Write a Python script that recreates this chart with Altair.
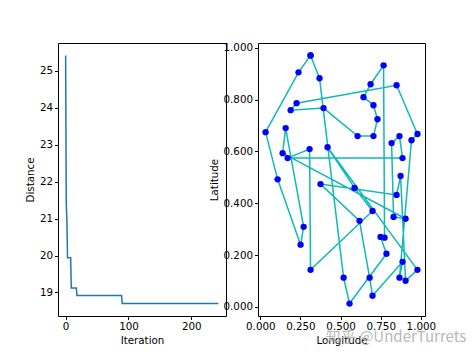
import altair as alt
import pandas as pd

# ---- Left panel: convergence curve ----
iterations = [0, 1, 2, 3, 8, 9, 17, 18, 89, 90, 243]
distances = [25.41, 21.40, 20.95, 19.94, 19.94, 19.12, 19.12, 18.92, 18.92, 18.70, 18.70]

# ---- Right panel: tour (visiting order, closed) ----
longitude = [0.313, 0.238, 0.033, 0.108, 0.251, 0.270, 0.158, 0.139, 0.905, 0.830,
             0.818, 0.867, 0.886, 0.170, 0.307, 0.313, 0.699, 0.587, 0.419, 0.979,
             0.905, 0.874, 0.849, 0.375, 0.618, 0.681, 0.699, 0.886, 0.867, 0.942,
             0.979, 0.849, 0.226, 0.189, 0.394, 0.606, 0.705, 0.730, 0.705, 0.643,
             0.687, 0.768, 0.774, 0.749, 0.786, 0.556, 0.519, 0.369, 0.313]
latitude = [0.970, 0.905, 0.674, 0.492, 0.240, 0.309, 0.690, 0.593, 0.340, 0.347,
            0.632, 0.659, 0.574, 0.574, 0.609, 0.143, 0.370, 0.459, 0.616, 0.143,
            0.101, 0.505, 0.432, 0.474, 0.332, 0.113, 0.043, 0.174, 0.113, 0.643,
            0.667, 0.855, 0.786, 0.759, 0.767, 0.659, 0.659, 0.724, 0.778, 0.809,
            0.859, 0.932, 0.267, 0.270, 0.205, 0.013, 0.113, 0.882, 0.970]

y_ticks_left = [19, 20, 21, 22, 23, 24, 25]
x_ticks_left = [0, 100, 200]
ticks_right = [0.0, 0.2, 0.4, 0.6, 0.8, 1.0]
ticks_right_x = [0.0, 0.25, 0.5, 0.75, 1.0]

conv = pd.DataFrame({"Iteration": iterations, "Distance": distances})
tour = pd.DataFrame({"Longitude": longitude, "Latitude": latitude,
                     "step": list(range(len(longitude)))})
wm = pd.DataFrame({"t": ["知乎 @UnderTurrets"]})

FONT = "DejaVu Sans"
FS = 10.3

def ax(values, fmt=None):
    kw = dict(values=values, grid=False, domain=False, tickSize=3.5, tickColor="black",
              labelPadding=2, titlePadding=4, labelFont=FONT, labelFontSize=FS,
              titleFont=FONT, titleFontSize=FS, titleFontWeight="normal",
              labelColor="black", titleColor="black")
    if fmt:
        kw["format"] = fmt
    return alt.Axis(**kw)

left = alt.Chart(conv).mark_line(color="#1f77b4", strokeWidth=1.5).encode(
    x=alt.X("Iteration:Q", scale=alt.Scale(domain=[-12.15, 255.15], nice=False, zero=False),
            axis=ax(x_ticks_left)),
    y=alt.Y("Distance:Q", scale=alt.Scale(domain=[18.3645, 25.7455], nice=False, zero=False),
            axis=ax(y_ticks_left)),
).properties(width=168, height=273)

xs = alt.X("Longitude:Q", scale=alt.Scale(domain=[-0.0143, 1.026], nice=False, zero=False),
           axis=ax(ticks_right_x, ".3f"))
ys = alt.Y("Latitude:Q", scale=alt.Scale(domain=[-0.035, 1.018], nice=False, zero=False),
           axis=ax(ticks_right, ".3f"))

path = alt.Chart(tour).mark_line(color="#10b8b8", strokeWidth=1.5).encode(
    x=xs, y=ys, order="step:Q")
pts = alt.Chart(tour).mark_circle(color="#0000ff", size=40, opacity=1).encode(x=xs, y=ys)
mark_wm = alt.Chart(wm).mark_text(font="Noto Sans CJK SC", fontSize=15, color="#b8b8b8",
                                  align="center", baseline="middle").encode(
    text="t:N", x=alt.value(138), y=alt.value(294))

right = alt.layer(path, pts, mark_wm).properties(width=167, height=273)

chart = alt.hconcat(left, right, spacing=32, bounds="flush").properties(
    padding={"left": 24, "top": 42, "right": 0, "bottom": 0}
).configure_view(stroke="black", strokeWidth=1)

chart.save("out.html", embed_options={"renderer": "svg", "actions": False})
